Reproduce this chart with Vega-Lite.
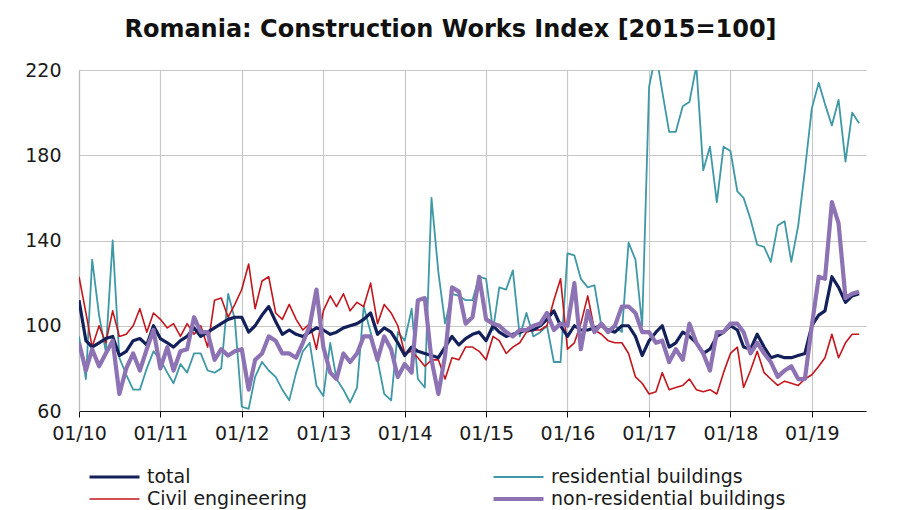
{
  "$schema": "https://vega.github.io/schema/vega-lite/v6.json",
  "autosize": "none",
  "width": 787,
  "height": 341,
  "padding": {"left": 79, "top": 70, "right": 34, "bottom": 99},
  "background": "white",
  "title": {
    "text": "Romania: Construction Works Index [2015=100]",
    "font": "DejaVu Sans",
    "fontSize": 24,
    "fontWeight": "bold",
    "color": "#111111",
    "anchor": "middle",
    "dx": -22,
    "offset": 19
  },
  "data": {
    "values": [
      {"month":"2010-01","series":"residential buildings","value":95},{"month":"2010-02","series":"residential buildings","value":75},{"month":"2010-03","series":"residential buildings","value":131},{"month":"2010-04","series":"residential buildings","value":105},{"month":"2010-05","series":"residential buildings","value":88},{"month":"2010-06","series":"residential buildings","value":140},{"month":"2010-07","series":"residential buildings","value":85},{"month":"2010-08","series":"residential buildings","value":77},{"month":"2010-09","series":"residential buildings","value":70},{"month":"2010-10","series":"residential buildings","value":70},{"month":"2010-11","series":"residential buildings","value":80},{"month":"2010-12","series":"residential buildings","value":88},
      {"month":"2011-01","series":"residential buildings","value":84},{"month":"2011-02","series":"residential buildings","value":78},{"month":"2011-03","series":"residential buildings","value":73},{"month":"2011-04","series":"residential buildings","value":82},{"month":"2011-05","series":"residential buildings","value":78},{"month":"2011-06","series":"residential buildings","value":87},{"month":"2011-07","series":"residential buildings","value":87},{"month":"2011-08","series":"residential buildings","value":79},{"month":"2011-09","series":"residential buildings","value":78},{"month":"2011-10","series":"residential buildings","value":80},{"month":"2011-11","series":"residential buildings","value":115},{"month":"2011-12","series":"residential buildings","value":103},
      {"month":"2012-01","series":"residential buildings","value":62},{"month":"2012-02","series":"residential buildings","value":61},{"month":"2012-03","series":"residential buildings","value":76},{"month":"2012-04","series":"residential buildings","value":83},{"month":"2012-05","series":"residential buildings","value":79},{"month":"2012-06","series":"residential buildings","value":76},{"month":"2012-07","series":"residential buildings","value":70},{"month":"2012-08","series":"residential buildings","value":65},{"month":"2012-09","series":"residential buildings","value":78},{"month":"2012-10","series":"residential buildings","value":88},{"month":"2012-11","series":"residential buildings","value":92},{"month":"2012-12","series":"residential buildings","value":72},
      {"month":"2013-01","series":"residential buildings","value":67},{"month":"2013-02","series":"residential buildings","value":92},{"month":"2013-03","series":"residential buildings","value":75},{"month":"2013-04","series":"residential buildings","value":70},{"month":"2013-05","series":"residential buildings","value":64},{"month":"2013-06","series":"residential buildings","value":71},{"month":"2013-07","series":"residential buildings","value":109},{"month":"2013-08","series":"residential buildings","value":97},{"month":"2013-09","series":"residential buildings","value":84},{"month":"2013-10","series":"residential buildings","value":68},{"month":"2013-11","series":"residential buildings","value":65},{"month":"2013-12","series":"residential buildings","value":97},
      {"month":"2014-01","series":"residential buildings","value":93},{"month":"2014-02","series":"residential buildings","value":108},{"month":"2014-03","series":"residential buildings","value":75},{"month":"2014-04","series":"residential buildings","value":71},{"month":"2014-05","series":"residential buildings","value":160},{"month":"2014-06","series":"residential buildings","value":125},{"month":"2014-07","series":"residential buildings","value":101},{"month":"2014-08","series":"residential buildings","value":115},{"month":"2014-09","series":"residential buildings","value":114},{"month":"2014-10","series":"residential buildings","value":112},{"month":"2014-11","series":"residential buildings","value":112},{"month":"2014-12","series":"residential buildings","value":123},
      {"month":"2015-01","series":"residential buildings","value":122},{"month":"2015-02","series":"residential buildings","value":98},{"month":"2015-03","series":"residential buildings","value":118},{"month":"2015-04","series":"residential buildings","value":117},{"month":"2015-05","series":"residential buildings","value":126},{"month":"2015-06","series":"residential buildings","value":95},{"month":"2015-07","series":"residential buildings","value":106},{"month":"2015-08","series":"residential buildings","value":95},{"month":"2015-09","series":"residential buildings","value":97},{"month":"2015-10","series":"residential buildings","value":100},{"month":"2015-11","series":"residential buildings","value":83},{"month":"2015-12","series":"residential buildings","value":83},
      {"month":"2016-01","series":"residential buildings","value":134},{"month":"2016-02","series":"residential buildings","value":133},{"month":"2016-03","series":"residential buildings","value":122},{"month":"2016-04","series":"residential buildings","value":118},{"month":"2016-05","series":"residential buildings","value":119},{"month":"2016-06","series":"residential buildings","value":100},{"month":"2016-07","series":"residential buildings","value":98},{"month":"2016-08","series":"residential buildings","value":100},{"month":"2016-09","series":"residential buildings","value":97},{"month":"2016-10","series":"residential buildings","value":139},{"month":"2016-11","series":"residential buildings","value":131},{"month":"2016-12","series":"residential buildings","value":100},
      {"month":"2017-01","series":"residential buildings","value":212},{"month":"2017-02","series":"residential buildings","value":228},{"month":"2017-03","series":"residential buildings","value":210},{"month":"2017-04","series":"residential buildings","value":191},{"month":"2017-05","series":"residential buildings","value":191},{"month":"2017-06","series":"residential buildings","value":203},{"month":"2017-07","series":"residential buildings","value":205},{"month":"2017-08","series":"residential buildings","value":222},{"month":"2017-09","series":"residential buildings","value":173},{"month":"2017-10","series":"residential buildings","value":184},{"month":"2017-11","series":"residential buildings","value":158},{"month":"2017-12","series":"residential buildings","value":184},
      {"month":"2018-01","series":"residential buildings","value":182},{"month":"2018-02","series":"residential buildings","value":163},{"month":"2018-03","series":"residential buildings","value":160},{"month":"2018-04","series":"residential buildings","value":150},{"month":"2018-05","series":"residential buildings","value":138},{"month":"2018-06","series":"residential buildings","value":137},{"month":"2018-07","series":"residential buildings","value":130},{"month":"2018-08","series":"residential buildings","value":147},{"month":"2018-09","series":"residential buildings","value":149},{"month":"2018-10","series":"residential buildings","value":130},{"month":"2018-11","series":"residential buildings","value":147},{"month":"2018-12","series":"residential buildings","value":173},
      {"month":"2019-01","series":"residential buildings","value":202},{"month":"2019-02","series":"residential buildings","value":214},{"month":"2019-03","series":"residential buildings","value":204},{"month":"2019-04","series":"residential buildings","value":194},{"month":"2019-05","series":"residential buildings","value":206},{"month":"2019-06","series":"residential buildings","value":177},{"month":"2019-07","series":"residential buildings","value":200},{"month":"2019-08","series":"residential buildings","value":195},

      {"month":"2010-01","series":"Civil engineering","value":123},{"month":"2010-02","series":"Civil engineering","value":106},{"month":"2010-03","series":"Civil engineering","value":90},{"month":"2010-04","series":"Civil engineering","value":100},{"month":"2010-05","series":"Civil engineering","value":92},{"month":"2010-06","series":"Civil engineering","value":107},{"month":"2010-07","series":"Civil engineering","value":95},{"month":"2010-08","series":"Civil engineering","value":96},{"month":"2010-09","series":"Civil engineering","value":100},{"month":"2010-10","series":"Civil engineering","value":108},{"month":"2010-11","series":"Civil engineering","value":97},{"month":"2010-12","series":"Civil engineering","value":106},
      {"month":"2011-01","series":"Civil engineering","value":103},{"month":"2011-02","series":"Civil engineering","value":99},{"month":"2011-03","series":"Civil engineering","value":101},{"month":"2011-04","series":"Civil engineering","value":95},{"month":"2011-05","series":"Civil engineering","value":101},{"month":"2011-06","series":"Civil engineering","value":96},{"month":"2011-07","series":"Civil engineering","value":100},{"month":"2011-08","series":"Civil engineering","value":90},{"month":"2011-09","series":"Civil engineering","value":112},{"month":"2011-10","series":"Civil engineering","value":113},{"month":"2011-11","series":"Civil engineering","value":104},{"month":"2011-12","series":"Civil engineering","value":110},
      {"month":"2012-01","series":"Civil engineering","value":117},{"month":"2012-02","series":"Civil engineering","value":129},{"month":"2012-03","series":"Civil engineering","value":108},{"month":"2012-04","series":"Civil engineering","value":121},{"month":"2012-05","series":"Civil engineering","value":123},{"month":"2012-06","series":"Civil engineering","value":106},{"month":"2012-07","series":"Civil engineering","value":103},{"month":"2012-08","series":"Civil engineering","value":110},{"month":"2012-09","series":"Civil engineering","value":103},{"month":"2012-10","series":"Civil engineering","value":98},{"month":"2012-11","series":"Civil engineering","value":101},{"month":"2012-12","series":"Civil engineering","value":89},
      {"month":"2013-01","series":"Civil engineering","value":107},{"month":"2013-02","series":"Civil engineering","value":114},{"month":"2013-03","series":"Civil engineering","value":109},{"month":"2013-04","series":"Civil engineering","value":115},{"month":"2013-05","series":"Civil engineering","value":107},{"month":"2013-06","series":"Civil engineering","value":111},{"month":"2013-07","series":"Civil engineering","value":109},{"month":"2013-08","series":"Civil engineering","value":120},{"month":"2013-09","series":"Civil engineering","value":101},{"month":"2013-10","series":"Civil engineering","value":110},{"month":"2013-11","series":"Civil engineering","value":106},{"month":"2013-12","series":"Civil engineering","value":100},
      {"month":"2014-01","series":"Civil engineering","value":87},{"month":"2014-02","series":"Civil engineering","value":88},{"month":"2014-03","series":"Civil engineering","value":85},{"month":"2014-04","series":"Civil engineering","value":81},{"month":"2014-05","series":"Civil engineering","value":84},{"month":"2014-06","series":"Civil engineering","value":84},{"month":"2014-07","series":"Civil engineering","value":75},{"month":"2014-08","series":"Civil engineering","value":85},{"month":"2014-09","series":"Civil engineering","value":84},{"month":"2014-10","series":"Civil engineering","value":90},{"month":"2014-11","series":"Civil engineering","value":90},{"month":"2014-12","series":"Civil engineering","value":88},
      {"month":"2015-01","series":"Civil engineering","value":84},{"month":"2015-02","series":"Civil engineering","value":95},{"month":"2015-03","series":"Civil engineering","value":93},{"month":"2015-04","series":"Civil engineering","value":87},{"month":"2015-05","series":"Civil engineering","value":90},{"month":"2015-06","series":"Civil engineering","value":92},{"month":"2015-07","series":"Civil engineering","value":97},{"month":"2015-08","series":"Civil engineering","value":98},{"month":"2015-09","series":"Civil engineering","value":98},{"month":"2015-10","series":"Civil engineering","value":100},{"month":"2015-11","series":"Civil engineering","value":112},{"month":"2015-12","series":"Civil engineering","value":122},
      {"month":"2016-01","series":"Civil engineering","value":89},{"month":"2016-02","series":"Civil engineering","value":92},{"month":"2016-03","series":"Civil engineering","value":101},{"month":"2016-04","series":"Civil engineering","value":114},{"month":"2016-05","series":"Civil engineering","value":98},{"month":"2016-06","series":"Civil engineering","value":96},{"month":"2016-07","series":"Civil engineering","value":93},{"month":"2016-08","series":"Civil engineering","value":92},{"month":"2016-09","series":"Civil engineering","value":92},{"month":"2016-10","series":"Civil engineering","value":87},{"month":"2016-11","series":"Civil engineering","value":76},{"month":"2016-12","series":"Civil engineering","value":73},
      {"month":"2017-01","series":"Civil engineering","value":68},{"month":"2017-02","series":"Civil engineering","value":69},{"month":"2017-03","series":"Civil engineering","value":78},{"month":"2017-04","series":"Civil engineering","value":70},{"month":"2017-05","series":"Civil engineering","value":71},{"month":"2017-06","series":"Civil engineering","value":72},{"month":"2017-07","series":"Civil engineering","value":75},{"month":"2017-08","series":"Civil engineering","value":70},{"month":"2017-09","series":"Civil engineering","value":69},{"month":"2017-10","series":"Civil engineering","value":70},{"month":"2017-11","series":"Civil engineering","value":68},{"month":"2017-12","series":"Civil engineering","value":78},
      {"month":"2018-01","series":"Civil engineering","value":87},{"month":"2018-02","series":"Civil engineering","value":90},{"month":"2018-03","series":"Civil engineering","value":71},{"month":"2018-04","series":"Civil engineering","value":79},{"month":"2018-05","series":"Civil engineering","value":88},{"month":"2018-06","series":"Civil engineering","value":78},{"month":"2018-07","series":"Civil engineering","value":75},{"month":"2018-08","series":"Civil engineering","value":72},{"month":"2018-09","series":"Civil engineering","value":74},{"month":"2018-10","series":"Civil engineering","value":73},{"month":"2018-11","series":"Civil engineering","value":72},{"month":"2018-12","series":"Civil engineering","value":75},
      {"month":"2019-01","series":"Civil engineering","value":77},{"month":"2019-02","series":"Civil engineering","value":81},{"month":"2019-03","series":"Civil engineering","value":85},{"month":"2019-04","series":"Civil engineering","value":96},{"month":"2019-05","series":"Civil engineering","value":85},{"month":"2019-06","series":"Civil engineering","value":92},{"month":"2019-07","series":"Civil engineering","value":96},{"month":"2019-08","series":"Civil engineering","value":96},

      {"month":"2010-01","series":"total","value":112},{"month":"2010-02","series":"total","value":93},{"month":"2010-03","series":"total","value":90},{"month":"2010-04","series":"total","value":92},{"month":"2010-05","series":"total","value":94},{"month":"2010-06","series":"total","value":95},{"month":"2010-07","series":"total","value":86},{"month":"2010-08","series":"total","value":88},{"month":"2010-09","series":"total","value":93},{"month":"2010-10","series":"total","value":94},{"month":"2010-11","series":"total","value":91},{"month":"2010-12","series":"total","value":100},
      {"month":"2011-01","series":"total","value":94},{"month":"2011-02","series":"total","value":92},{"month":"2011-03","series":"total","value":90},{"month":"2011-04","series":"total","value":93},{"month":"2011-05","series":"total","value":95},{"month":"2011-06","series":"total","value":99},{"month":"2011-07","series":"total","value":95},{"month":"2011-08","series":"total","value":97},{"month":"2011-09","series":"total","value":99},{"month":"2011-10","series":"total","value":101},{"month":"2011-11","series":"total","value":103},{"month":"2011-12","series":"total","value":104},
      {"month":"2012-01","series":"total","value":104},{"month":"2012-02","series":"total","value":97},{"month":"2012-03","series":"total","value":100},{"month":"2012-04","series":"total","value":105},{"month":"2012-05","series":"total","value":109},{"month":"2012-06","series":"total","value":102},{"month":"2012-07","series":"total","value":96},{"month":"2012-08","series":"total","value":98},{"month":"2012-09","series":"total","value":96},{"month":"2012-10","series":"total","value":95},{"month":"2012-11","series":"total","value":97},{"month":"2012-12","series":"total","value":99},
      {"month":"2013-01","series":"total","value":98},{"month":"2013-02","series":"total","value":96},{"month":"2013-03","series":"total","value":97},{"month":"2013-04","series":"total","value":99},{"month":"2013-05","series":"total","value":100},{"month":"2013-06","series":"total","value":101},{"month":"2013-07","series":"total","value":103},{"month":"2013-08","series":"total","value":106},{"month":"2013-09","series":"total","value":96},{"month":"2013-10","series":"total","value":99},{"month":"2013-11","series":"total","value":97},{"month":"2013-12","series":"total","value":92},
      {"month":"2014-01","series":"total","value":86},{"month":"2014-02","series":"total","value":90},{"month":"2014-03","series":"total","value":88},{"month":"2014-04","series":"total","value":87},{"month":"2014-05","series":"total","value":86},{"month":"2014-06","series":"total","value":85},{"month":"2014-07","series":"total","value":90},{"month":"2014-08","series":"total","value":95},{"month":"2014-09","series":"total","value":91},{"month":"2014-10","series":"total","value":94},{"month":"2014-11","series":"total","value":96},{"month":"2014-12","series":"total","value":97},
      {"month":"2015-01","series":"total","value":93},{"month":"2015-02","series":"total","value":100},{"month":"2015-03","series":"total","value":97},{"month":"2015-04","series":"total","value":95},{"month":"2015-05","series":"total","value":96},{"month":"2015-06","series":"total","value":97},{"month":"2015-07","series":"total","value":98},{"month":"2015-08","series":"total","value":98},{"month":"2015-09","series":"total","value":100},{"month":"2015-10","series":"total","value":103},{"month":"2015-11","series":"total","value":107},{"month":"2015-12","series":"total","value":100},
      {"month":"2016-01","series":"total","value":95},{"month":"2016-02","series":"total","value":100},{"month":"2016-03","series":"total","value":98},{"month":"2016-04","series":"total","value":98},{"month":"2016-05","series":"total","value":99},{"month":"2016-06","series":"total","value":100},{"month":"2016-07","series":"total","value":98},{"month":"2016-08","series":"total","value":97},{"month":"2016-09","series":"total","value":100},{"month":"2016-10","series":"total","value":100},{"month":"2016-11","series":"total","value":95},{"month":"2016-12","series":"total","value":86},
      {"month":"2017-01","series":"total","value":93},{"month":"2017-02","series":"total","value":97},{"month":"2017-03","series":"total","value":100},{"month":"2017-04","series":"total","value":90},{"month":"2017-05","series":"total","value":92},{"month":"2017-06","series":"total","value":97},{"month":"2017-07","series":"total","value":95},{"month":"2017-08","series":"total","value":92},{"month":"2017-09","series":"total","value":87},{"month":"2017-10","series":"total","value":89},{"month":"2017-11","series":"total","value":95},{"month":"2017-12","series":"total","value":97},
      {"month":"2018-01","series":"total","value":100},{"month":"2018-02","series":"total","value":98},{"month":"2018-03","series":"total","value":90},{"month":"2018-04","series":"total","value":89},{"month":"2018-05","series":"total","value":96},{"month":"2018-06","series":"total","value":90},{"month":"2018-07","series":"total","value":85},{"month":"2018-08","series":"total","value":86},{"month":"2018-09","series":"total","value":85},{"month":"2018-10","series":"total","value":85},{"month":"2018-11","series":"total","value":86},{"month":"2018-12","series":"total","value":87},
      {"month":"2019-01","series":"total","value":100},{"month":"2019-02","series":"total","value":105},{"month":"2019-03","series":"total","value":107},{"month":"2019-04","series":"total","value":123},{"month":"2019-05","series":"total","value":118},{"month":"2019-06","series":"total","value":111},{"month":"2019-07","series":"total","value":114},{"month":"2019-08","series":"total","value":115},

      {"month":"2010-01","series":"non-residential buildings","value":92},{"month":"2010-02","series":"non-residential buildings","value":79},{"month":"2010-03","series":"non-residential buildings","value":89},{"month":"2010-04","series":"non-residential buildings","value":81},{"month":"2010-05","series":"non-residential buildings","value":87},{"month":"2010-06","series":"non-residential buildings","value":93},{"month":"2010-07","series":"non-residential buildings","value":68},{"month":"2010-08","series":"non-residential buildings","value":80},{"month":"2010-09","series":"non-residential buildings","value":87},{"month":"2010-10","series":"non-residential buildings","value":79},{"month":"2010-11","series":"non-residential buildings","value":89},{"month":"2010-12","series":"non-residential buildings","value":98},
      {"month":"2011-01","series":"non-residential buildings","value":80},{"month":"2011-02","series":"non-residential buildings","value":90},{"month":"2011-03","series":"non-residential buildings","value":79},{"month":"2011-04","series":"non-residential buildings","value":88},{"month":"2011-05","series":"non-residential buildings","value":89},{"month":"2011-06","series":"non-residential buildings","value":104},{"month":"2011-07","series":"non-residential buildings","value":97},{"month":"2011-08","series":"non-residential buildings","value":97},{"month":"2011-09","series":"non-residential buildings","value":84},{"month":"2011-10","series":"non-residential buildings","value":89},{"month":"2011-11","series":"non-residential buildings","value":86},{"month":"2011-12","series":"non-residential buildings","value":88},
      {"month":"2012-01","series":"non-residential buildings","value":89},{"month":"2012-02","series":"non-residential buildings","value":70},{"month":"2012-03","series":"non-residential buildings","value":84},{"month":"2012-04","series":"non-residential buildings","value":87},{"month":"2012-05","series":"non-residential buildings","value":95},{"month":"2012-06","series":"non-residential buildings","value":93},{"month":"2012-07","series":"non-residential buildings","value":87},{"month":"2012-08","series":"non-residential buildings","value":87},{"month":"2012-09","series":"non-residential buildings","value":85},{"month":"2012-10","series":"non-residential buildings","value":92},{"month":"2012-11","series":"non-residential buildings","value":100},{"month":"2012-12","series":"non-residential buildings","value":117},
      {"month":"2013-01","series":"non-residential buildings","value":90},{"month":"2013-02","series":"non-residential buildings","value":78},{"month":"2013-03","series":"non-residential buildings","value":75},{"month":"2013-04","series":"non-residential buildings","value":87},{"month":"2013-05","series":"non-residential buildings","value":83},{"month":"2013-06","series":"non-residential buildings","value":87},{"month":"2013-07","series":"non-residential buildings","value":95},{"month":"2013-08","series":"non-residential buildings","value":95},{"month":"2013-09","series":"non-residential buildings","value":84},{"month":"2013-10","series":"non-residential buildings","value":95},{"month":"2013-11","series":"non-residential buildings","value":89},{"month":"2013-12","series":"non-residential buildings","value":76},
      {"month":"2014-01","series":"non-residential buildings","value":82},{"month":"2014-02","series":"non-residential buildings","value":78},{"month":"2014-03","series":"non-residential buildings","value":112},{"month":"2014-04","series":"non-residential buildings","value":113},{"month":"2014-05","series":"non-residential buildings","value":84},{"month":"2014-06","series":"non-residential buildings","value":68},{"month":"2014-07","series":"non-residential buildings","value":86},{"month":"2014-08","series":"non-residential buildings","value":118},{"month":"2014-09","series":"non-residential buildings","value":116},{"month":"2014-10","series":"non-residential buildings","value":101},{"month":"2014-11","series":"non-residential buildings","value":104},{"month":"2014-12","series":"non-residential buildings","value":123},
      {"month":"2015-01","series":"non-residential buildings","value":103},{"month":"2015-02","series":"non-residential buildings","value":101},{"month":"2015-03","series":"non-residential buildings","value":100},{"month":"2015-04","series":"non-residential buildings","value":97},{"month":"2015-05","series":"non-residential buildings","value":95},{"month":"2015-06","series":"non-residential buildings","value":98},{"month":"2015-07","series":"non-residential buildings","value":98},{"month":"2015-08","series":"non-residential buildings","value":100},{"month":"2015-09","series":"non-residential buildings","value":101},{"month":"2015-10","series":"non-residential buildings","value":106},{"month":"2015-11","series":"non-residential buildings","value":98},{"month":"2015-12","series":"non-residential buildings","value":101},
      {"month":"2016-01","series":"non-residential buildings","value":100},{"month":"2016-02","series":"non-residential buildings","value":120},{"month":"2016-03","series":"non-residential buildings","value":89},{"month":"2016-04","series":"non-residential buildings","value":107},{"month":"2016-05","series":"non-residential buildings","value":97},{"month":"2016-06","series":"non-residential buildings","value":101},{"month":"2016-07","series":"non-residential buildings","value":97},{"month":"2016-08","series":"non-residential buildings","value":100},{"month":"2016-09","series":"non-residential buildings","value":109},{"month":"2016-10","series":"non-residential buildings","value":109},{"month":"2016-11","series":"non-residential buildings","value":106},{"month":"2016-12","series":"non-residential buildings","value":97},
      {"month":"2017-01","series":"non-residential buildings","value":97},{"month":"2017-02","series":"non-residential buildings","value":92},{"month":"2017-03","series":"non-residential buildings","value":93},{"month":"2017-04","series":"non-residential buildings","value":83},{"month":"2017-05","series":"non-residential buildings","value":89},{"month":"2017-06","series":"non-residential buildings","value":84},{"month":"2017-07","series":"non-residential buildings","value":101},{"month":"2017-08","series":"non-residential buildings","value":92},{"month":"2017-09","series":"non-residential buildings","value":87},{"month":"2017-10","series":"non-residential buildings","value":79},{"month":"2017-11","series":"non-residential buildings","value":97},{"month":"2017-12","series":"non-residential buildings","value":97},
      {"month":"2018-01","series":"non-residential buildings","value":101},{"month":"2018-02","series":"non-residential buildings","value":101},{"month":"2018-03","series":"non-residential buildings","value":97},{"month":"2018-04","series":"non-residential buildings","value":87},{"month":"2018-05","series":"non-residential buildings","value":92},{"month":"2018-06","series":"non-residential buildings","value":87},{"month":"2018-07","series":"non-residential buildings","value":83},{"month":"2018-08","series":"non-residential buildings","value":76},{"month":"2018-09","series":"non-residential buildings","value":79},{"month":"2018-10","series":"non-residential buildings","value":81},{"month":"2018-11","series":"non-residential buildings","value":75},{"month":"2018-12","series":"non-residential buildings","value":75},
      {"month":"2019-01","series":"non-residential buildings","value":100},{"month":"2019-02","series":"non-residential buildings","value":123},{"month":"2019-03","series":"non-residential buildings","value":122},{"month":"2019-04","series":"non-residential buildings","value":158},{"month":"2019-05","series":"non-residential buildings","value":148},{"month":"2019-06","series":"non-residential buildings","value":113},{"month":"2019-07","series":"non-residential buildings","value":115},{"month":"2019-08","series":"non-residential buildings","value":116}
    ]
  },
  "mark": {"type": "line", "clip": true, "strokeJoin": "round"},
  "encoding": {
    "x": {
      "field": "month",
      "type": "temporal",
      "scale": {
        "type": "utc",
        "nice": false,
        "domain": [
          {"year": 2010, "month": 1, "date": 1, "utc": true},
          {"year": 2019, "month": 9, "date": 1, "utc": true}
        ]
      },
      "axis": {
        "title": null,
        "format": "%m/%y",
        "values": [
          {"year": 2010, "month": 1, "date": 1, "utc": true},
          {"year": 2011, "month": 1, "date": 1, "utc": true},
          {"year": 2012, "month": 1, "date": 1, "utc": true},
          {"year": 2013, "month": 1, "date": 1, "utc": true},
          {"year": 2014, "month": 1, "date": 1, "utc": true},
          {"year": 2015, "month": 1, "date": 1, "utc": true},
          {"year": 2016, "month": 1, "date": 1, "utc": true},
          {"year": 2017, "month": 1, "date": 1, "utc": true},
          {"year": 2018, "month": 1, "date": 1, "utc": true},
          {"year": 2019, "month": 1, "date": 1, "utc": true}
        ],
        "grid": true,
        "gridColor": "#c8c8c8",
        "gridWidth": 1.2,
        "domainColor": "#111111",
        "domainWidth": 1.2,
        "ticks": true,
        "tickColor": "#111111",
        "tickSize": 6,
        "labelFont": "DejaVu Sans",
        "labelFontSize": 19,
        "labelColor": "#1a1a1a",
        "labelPadding": 7,
        "labelFlush": false
      }
    },
    "y": {
      "field": "value",
      "type": "quantitative",
      "scale": {"domain": [60, 220], "nice": false, "zero": false},
      "axis": {
        "title": null,
        "values": [60, 100, 140, 180, 220],
        "grid": true,
        "gridColor": "#c8c8c8",
        "gridWidth": 1.2,
        "domainColor": "#bdbdbd",
        "domainWidth": 1.2,
        "ticks": false,
        "labelFont": "DejaVu Sans",
        "labelFontSize": 19,
        "labelColor": "#1a1a1a",
        "labelPadding": 18
      }
    },
    "color": {
      "field": "series",
      "type": "nominal",
      "title": null,
      "scale": {
        "domain": ["total", "Civil engineering", "residential buildings", "non-residential buildings"],
        "range": ["#13205a", "#c3161c", "#3f98a6", "#8e73b4"]
      }
    },
    "strokeWidth": {
      "field": "series",
      "type": "nominal",
      "title": null,
      "scale": {
        "type": "ordinal",
        "domain": ["total", "Civil engineering", "residential buildings", "non-residential buildings"],
        "range": [3.2, 1.6, 1.8, 4.2]
      }
    },
    "order": {"field": "month", "type": "temporal"}
  },
  "config": {
    "view": {"stroke": null},
    "legend": {
      "orient": "none",
      "legendX": 8,
      "legendY": 397,
      "columns": 2,
      "columnPadding": 183,
      "rowPadding": 2,
      "padding": 0,
      "clipHeight": 20,
      "symbolType": "stroke",
      "symbolSize": 2500,
      "labelFont": "DejaVu Sans",
      "labelFontSize": 19,
      "labelLimit": 400,
      "labelColor": "#1a1a1a",
      "labelOffset": 5
    }
  }
}
